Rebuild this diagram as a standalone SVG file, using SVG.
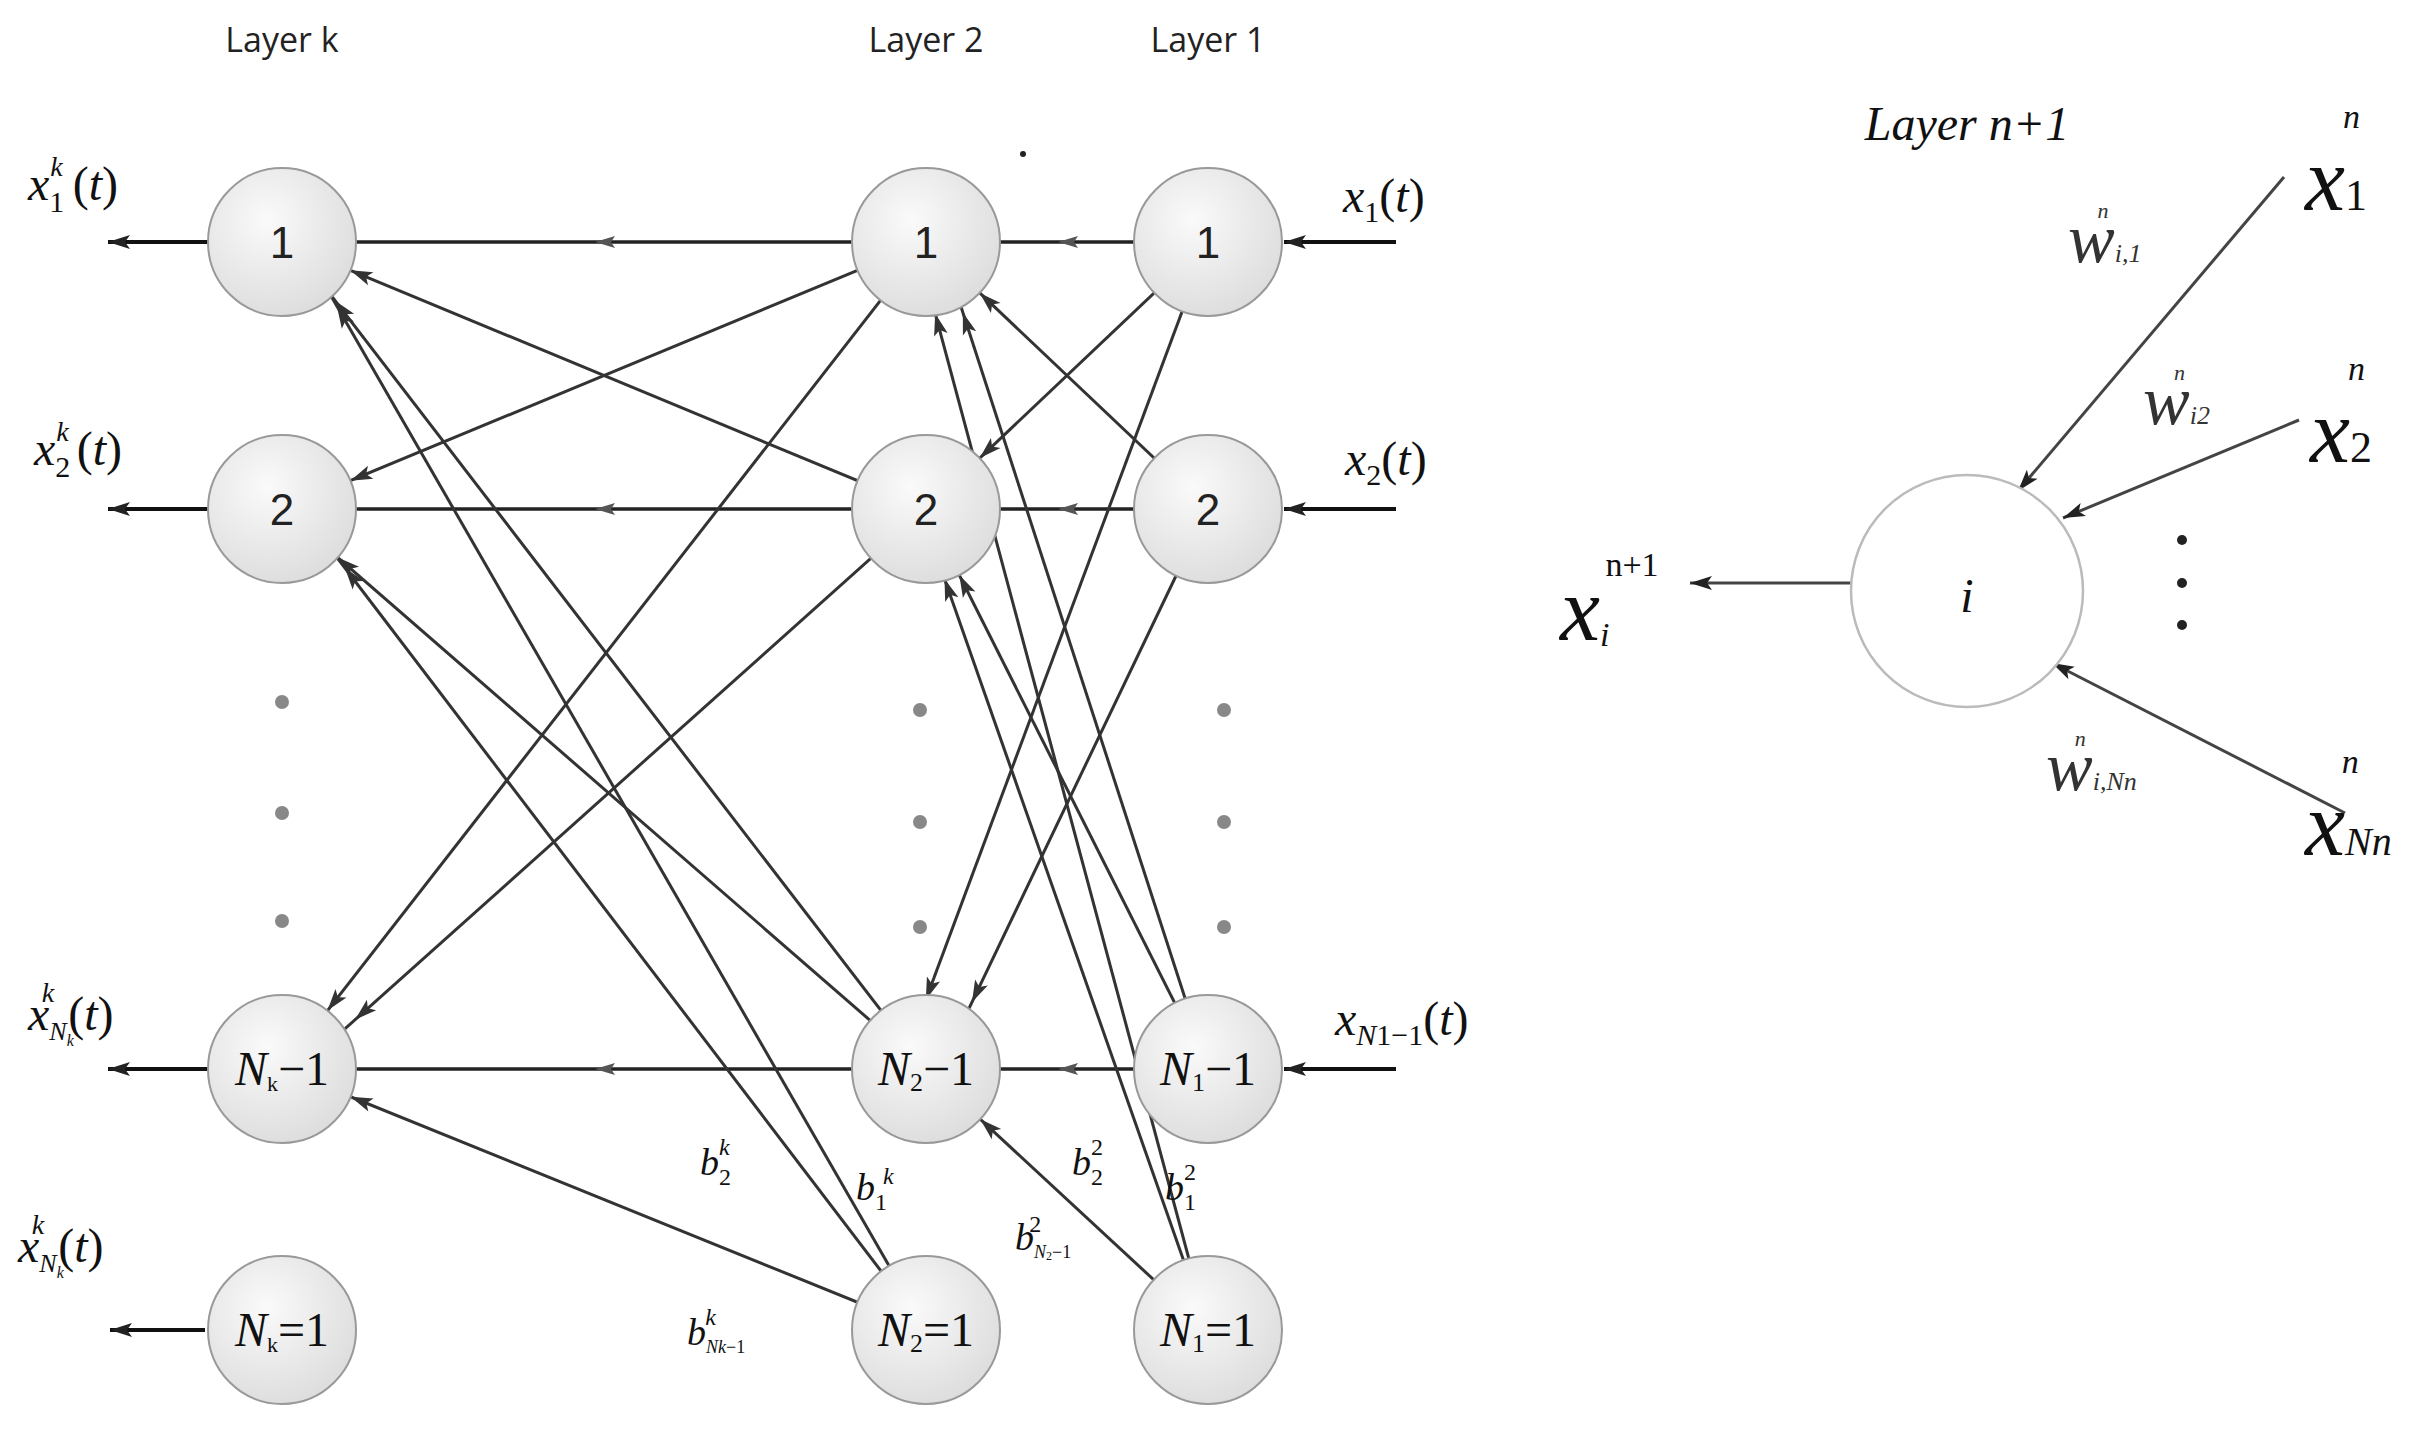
<svg xmlns="http://www.w3.org/2000/svg" width="2419" height="1432" viewBox="0 0 2419 1432">
<defs>
<radialGradient id="g" cx="0.4" cy="0.35" r="0.7"><stop offset="0" stop-color="#fafafa"/><stop offset="1" stop-color="#dcdcdc"/></radialGradient>
<marker id="ae" markerUnits="userSpaceOnUse" markerWidth="120" markerHeight="20" refX="96" refY="0" orient="auto" overflow="visible"><path d="M0,-7 L22,0 L0,7 L5,0 z" fill="#333"/></marker>
<marker id="at" markerUnits="userSpaceOnUse" markerWidth="30" markerHeight="20" refX="22" refY="0" orient="auto" overflow="visible"><path d="M0,-7 L22,0 L0,7 L5,0 z" fill="#222"/></marker>
<marker id="am" markerUnits="userSpaceOnUse" markerWidth="30" markerHeight="20" refX="11" refY="0" orient="auto" overflow="visible"><path d="M0,-6 L20,0 L0,6 L4,0 z" fill="#555"/></marker>
</defs>
<style>
.n circle{fill:url(#g);stroke:#999;stroke-width:2}
.c line{stroke:#333;stroke-width:3;marker-end:url(#ae)}
.h polyline{stroke:#222;stroke-width:3.5;fill:none;marker-mid:url(#am)}
.io line{stroke:#111;stroke-width:4;marker-end:url(#at)}
.s{font-family:"Open Sans","DejaVu Sans",sans-serif;font-size:34px;fill:#222}
.num{font-family:"Liberation Sans",sans-serif;font-size:44px;fill:#222;text-anchor:middle}
.m{font-family:"Liberation Serif",serif;font-size:48px;fill:#111}
.i{font-style:italic}
.dot{fill:#888}
</style>
<text class="s" x="282" y="52" text-anchor="middle">Layer k</text>
<text class="s" x="926" y="52" text-anchor="middle">Layer 2</text>
<text class="s" x="1208" y="52" text-anchor="middle">Layer 1</text>
<circle cx="1023" cy="154" r="3" fill="#222"/>
<g id="connectors">
<g class="h">
<polyline points="926,242 604,242 282,242"/>
<polyline points="1208,242 1067,242 926,242"/>
<polyline points="926,509 604,509 282,509"/>
<polyline points="1208,509 1067,509 926,509"/>
<polyline points="926,1069 604,1069 282,1069"/>
<polyline points="1208,1069 1067,1069 926,1069"/>
</g>
<g class="c">
<line x1="926" y1="242" x2="282" y2="509"/>
<line x1="926" y1="242" x2="282" y2="1069"/>
<line x1="926" y1="509" x2="282" y2="242"/>
<line x1="926" y1="509" x2="300" y2="1069"/>
<line x1="926" y1="1069" x2="290" y2="242"/>
<line x1="926" y1="1069" x2="282" y2="509"/>
<line x1="926" y1="1330" x2="300" y2="242"/>
<line x1="926" y1="1330" x2="300" y2="509"/>
<line x1="926" y1="1330" x2="282" y2="1069"/>
<line x1="1208" y1="242" x2="926" y2="509"/>
<line x1="1208" y1="242" x2="900" y2="1069"/>
<line x1="1208" y1="509" x2="926" y2="242"/>
<line x1="1208" y1="509" x2="940" y2="1069"/>
<line x1="1208" y1="1069" x2="940" y2="242"/>
<line x1="1208" y1="1069" x2="926" y2="509"/>
<line x1="1208" y1="1330" x2="916" y2="242"/>
<line x1="1208" y1="1330" x2="920" y2="509"/>
<line x1="1208" y1="1330" x2="926" y2="1069"/>
</g>
<g class="io">
<line x1="208" y1="242" x2="108" y2="242"/>
<line x1="208" y1="509" x2="108" y2="509"/>
<line x1="208" y1="1069" x2="108" y2="1069"/>
<line x1="205" y1="1330" x2="110" y2="1330"/>
<line x1="1396" y1="242" x2="1284" y2="242"/>
<line x1="1396" y1="509" x2="1284" y2="509"/>
<line x1="1396" y1="1069" x2="1284" y2="1069"/>
</g>
<g style="stroke:#444;stroke-width:3">
<line x1="1852" y1="583" x2="1690" y2="583" marker-end="url(#at)"/>
<line x1="2284" y1="177" x2="2018" y2="491" marker-end="url(#at)"/>
<line x1="2299" y1="420" x2="2063" y2="518" marker-end="url(#at)"/>
<line x1="2345" y1="813" x2="2052" y2="663" marker-end="url(#at)"/>
</g>
</g>
<g id="dots">
<circle class="dot" cx="282" cy="702" r="7"/><circle class="dot" cx="282" cy="813" r="7"/><circle class="dot" cx="282" cy="921" r="7"/>
<circle class="dot" cx="920" cy="710" r="7"/><circle class="dot" cx="920" cy="822" r="7"/><circle class="dot" cx="920" cy="927" r="7"/>
<circle class="dot" cx="1224" cy="710" r="7"/><circle class="dot" cx="1224" cy="822" r="7"/><circle class="dot" cx="1224" cy="927" r="7"/>
</g>
<g id="nk1" class="n"><circle cx="282" cy="242" r="74"/><text class="num" x="282" y="258">1</text></g>
<g id="nk2" class="n"><circle cx="282" cy="509" r="74"/><text class="num" x="282" y="525">2</text></g>
<g id="nk3" class="n"><circle cx="282" cy="1069" r="74"/><text class="m" x="282" y="1085" text-anchor="middle"><tspan class="i">N</tspan><tspan font-size="22" dy="6">k</tspan><tspan dy="-6">−1</tspan></text></g>
<g id="nk4" class="n"><circle cx="282" cy="1330" r="74"/><text class="m" x="282" y="1346" text-anchor="middle"><tspan class="i">N</tspan><tspan font-size="22" dy="6">k</tspan><tspan dy="-6">=1</tspan></text></g>
<g id="n21" class="n"><circle cx="926" cy="242" r="74"/><text class="num" x="926" y="258">1</text></g>
<g id="n22" class="n"><circle cx="926" cy="509" r="74"/><text class="num" x="926" y="525">2</text></g>
<g id="n23" class="n"><circle cx="926" cy="1069" r="74"/><text class="m" x="926" y="1085" text-anchor="middle"><tspan class="i">N</tspan><tspan font-size="26" dy="6">2</tspan><tspan dy="-6">−1</tspan></text></g>
<g id="n24" class="n"><circle cx="926" cy="1330" r="74"/><text class="m" x="926" y="1346" text-anchor="middle"><tspan class="i">N</tspan><tspan font-size="26" dy="6">2</tspan><tspan dy="-6">=1</tspan></text></g>
<g id="n11" class="n"><circle cx="1208" cy="242" r="74"/><text class="num" x="1208" y="258">1</text></g>
<g id="n12" class="n"><circle cx="1208" cy="509" r="74"/><text class="num" x="1208" y="525">2</text></g>
<g id="n13" class="n"><circle cx="1208" cy="1069" r="74"/><text class="m" x="1208" y="1085" text-anchor="middle"><tspan class="i">N</tspan><tspan font-size="26" dy="6">1</tspan><tspan dy="-6">−1</tspan></text></g>
<g id="n14" class="n"><circle cx="1208" cy="1330" r="74"/><text class="m" x="1208" y="1346" text-anchor="middle"><tspan class="i">N</tspan><tspan font-size="26" dy="6">1</tspan><tspan dy="-6">=1</tspan></text></g>
<g id="labels" class="m">
<text x="28" y="200"><tspan class="i">x</tspan><tspan font-size="30" dy="12">1</tspan><tspan font-size="28" class="i" dx="-14" dy="-36">k</tspan><tspan dx="10" dy="24">(</tspan><tspan class="i">t</tspan><tspan>)</tspan></text>
<text x="34" y="465"><tspan class="i">x</tspan><tspan font-size="30" dy="12">2</tspan><tspan font-size="28" class="i" dx="-14" dy="-36">k</tspan><tspan dx="8" dy="24">(</tspan><tspan class="i">t</tspan><tspan>)</tspan></text>
<text x="28" y="1030"><tspan class="i">x</tspan><tspan font-size="26" class="i" dy="10">N</tspan><tspan font-size="16" class="i" dy="6">k</tspan><tspan font-size="28" class="i" dx="-32" dy="-44">k</tspan><tspan dx="14" dy="28">(</tspan><tspan class="i">t</tspan><tspan>)</tspan></text>
<text x="18" y="1262"><tspan class="i">x</tspan><tspan font-size="26" class="i" dy="10">N</tspan><tspan font-size="16" class="i" dy="6">k</tspan><tspan font-size="28" class="i" dx="-32" dy="-44">k</tspan><tspan dx="14" dy="28">(</tspan><tspan class="i">t</tspan><tspan>)</tspan></text>
<text x="1343" y="212"><tspan class="i">x</tspan><tspan font-size="30" dy="10">1</tspan><tspan dy="-10">(</tspan><tspan class="i">t</tspan><tspan>)</tspan></text>
<text x="1345" y="475"><tspan class="i">x</tspan><tspan font-size="30" dy="10">2</tspan><tspan dy="-10">(</tspan><tspan class="i">t</tspan><tspan>)</tspan></text>
<text x="1335" y="1035"><tspan class="i">x</tspan><tspan font-size="30" class="i" dy="10">N</tspan><tspan font-size="30" dy="0">1−1</tspan><tspan dy="-10">(</tspan><tspan class="i">t</tspan><tspan>)</tspan></text>
<g font-size="38">
<text x="700" y="1175"><tspan class="i">b</tspan><tspan font-size="24" dy="10">2</tspan><tspan font-size="24" class="i" dx="-12" dy="-30">k</tspan></text>
<text x="856" y="1200"><tspan class="i">b</tspan><tspan font-size="24" dy="10">1</tspan><tspan font-size="24" class="i" dx="-4" dy="-26">k</tspan></text>
<text x="1072" y="1175"><tspan class="i">b</tspan><tspan font-size="24" dy="10">2</tspan><tspan font-size="24" dx="-12" dy="-30">2</tspan></text>
<text x="1165" y="1200"><tspan class="i">b</tspan><tspan font-size="24" dy="10">1</tspan><tspan font-size="24" dx="-12" dy="-30">2</tspan></text>
<text x="1015" y="1250"><tspan class="i">b</tspan><tspan font-size="18" class="i" dy="8">N</tspan><tspan font-size="12" dy="2">2</tspan><tspan font-size="18" dy="-2">−1</tspan><tspan font-size="24" dx="-42" dy="-26">2</tspan></text>
<text x="687" y="1345"><tspan class="i">b</tspan><tspan font-size="18" class="i" dy="8">Nk</tspan><tspan font-size="18" dy="0">−1</tspan><tspan font-size="24" class="i" dx="-40" dy="-28">k</tspan></text>
</g>
</g>
<g id="right">
<text x="1967" y="140" class="m i" font-size="50" fill="#333" text-anchor="middle">Layer n+1</text>
<g id="ni"><circle cx="1967" cy="591" r="116" fill="#fff" stroke="#bbb" stroke-width="2.5"/><text class="m i" x="1967" y="612" font-size="60" text-anchor="middle">i</text></g>
<g class="m">
<text x="1560" y="640" font-size="90"><tspan class="i">x</tspan><tspan class="i" font-size="34" dy="6">i</tspan><tspan font-size="34" dx="-4" dy="-70">n+1</tspan></text>
<text x="2305" y="210" font-size="90"><tspan class="i">x</tspan><tspan font-size="44" dy="0">1</tspan><tspan class="i" font-size="34" dx="-24" dy="-82">n</tspan></text>
<text x="2310" y="462" font-size="90"><tspan class="i">x</tspan><tspan font-size="44" dy="0">2</tspan><tspan class="i" font-size="34" dx="-24" dy="-82">n</tspan></text>
<text x="2305" y="855" font-size="90"><tspan class="i">x</tspan><tspan class="i" font-size="40" dy="0">Nn</tspan><tspan class="i" font-size="34" dx="-50" dy="-82">n</tspan></text>
<text x="2068" y="262" font-size="70" fill="#333"><tspan class="i">w</tspan><tspan class="i" font-size="26" dy="0">i,1</tspan><tspan class="i" font-size="22" dx="-44" dy="-44">n</tspan></text>
<text x="2143" y="424" font-size="70" fill="#333"><tspan class="i">w</tspan><tspan class="i" font-size="26" dy="0">i2</tspan><tspan class="i" font-size="22" dx="-36" dy="-44">n</tspan></text>
<text x="2046" y="790" font-size="70" fill="#333"><tspan class="i">w</tspan><tspan class="i" font-size="26" dy="0">i,Nn</tspan><tspan class="i" font-size="22" dx="-62" dy="-44">n</tspan></text>
</g>
<circle cx="2182" cy="540" r="5" fill="#222"/><circle cx="2182" cy="583" r="5" fill="#222"/><circle cx="2182" cy="625" r="5" fill="#222"/>
</g>
</svg>
